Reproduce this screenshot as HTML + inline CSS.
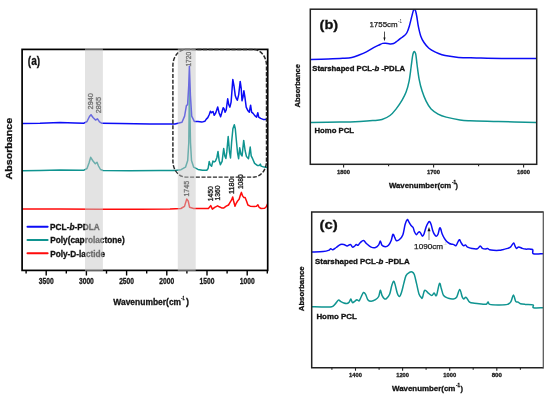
<!DOCTYPE html>
<html><head><meta charset="utf-8"><title>FTIR spectra</title>
<style>
html,body{margin:0;padding:0;background:#fff;}
body{width:550px;height:399px;overflow:hidden;}
svg{display:block;font-family:'Liberation Sans', Arial, sans-serif;}
text[font-weight=bold]{stroke:#111;stroke-width:0.3px;paint-order:stroke;}
</style></head>
<body>
<svg width="550" height="399" viewBox="0 0 550 399">
<rect width="550" height="399" fill="#fff"/>
<defs><clipPath id="ca"><rect x="22.1" y="49.4" width="245.6" height="221"/></clipPath><clipPath id="cb"><rect x="310.3" y="9.2" width="226.4" height="155.1"/></clipPath><clipPath id="cc"><rect x="311.7" y="212.1" width="231.7" height="155.7"/></clipPath></defs>
<text x="92.9" y="109.4" font-size="7" font-weight="normal" fill="#222" stroke="#222" stroke-width="0.35" transform="rotate(-90 92.9 109.4)" textLength="16.3" lengthAdjust="spacingAndGlyphs">2940</text>
<text x="101.0" y="113.3" font-size="7" font-weight="normal" fill="#222" stroke="#222" stroke-width="0.35" transform="rotate(-90 101.0 113.3)" textLength="16.3" lengthAdjust="spacingAndGlyphs">2865</text>
<text x="191.3" y="66.6" font-size="7" font-weight="normal" fill="#222" stroke="#222" stroke-width="0.35" transform="rotate(-90 191.3 66.6)" textLength="14.7" lengthAdjust="spacingAndGlyphs">1720</text>
<text x="188.9" y="196.6" font-size="7" font-weight="normal" fill="#222" stroke="#222" stroke-width="0.35" transform="rotate(-90 188.9 196.6)" textLength="15.7" lengthAdjust="spacingAndGlyphs">1745</text>
<text x="213.4" y="201.3" font-size="7" font-weight="normal" fill="#222" stroke="#222" stroke-width="0.35" transform="rotate(-90 213.4 201.3)" textLength="15.1" lengthAdjust="spacingAndGlyphs">1450</text>
<text x="219.8" y="200.5" font-size="7" font-weight="normal" fill="#222" stroke="#222" stroke-width="0.35" transform="rotate(-90 219.8 200.5)" textLength="15.1" lengthAdjust="spacingAndGlyphs">1360</text>
<text x="234.3" y="193.9" font-size="7" font-weight="normal" fill="#222" stroke="#222" stroke-width="0.35" transform="rotate(-90 234.3 193.9)" textLength="15.6" lengthAdjust="spacingAndGlyphs">1180</text>
<text x="243.5" y="189.1" font-size="7" font-weight="normal" fill="#222" stroke="#222" stroke-width="0.35" transform="rotate(-90 243.5 189.1)" textLength="14.7" lengthAdjust="spacingAndGlyphs">1080</text>
<g clip-path="url(#ca)">
<polyline points="22.0,209.0 60.0,209.0 100.0,209.2 140.0,209.3 170.0,209.1 180.9,208.5 184.5,206.4 186.7,199.1 188.2,200.9 189.6,207.3 193.6,208.5 205.0,208.5 208.4,208.5 210.7,205.6 212.4,209.1 214.7,207.3 217.6,205.8 219.3,206.8 221.6,207.9 223.9,207.9 226.2,206.2 228.5,205.0 230.2,202.2 231.6,199.9 232.7,197.0 233.6,201.0 235.0,206.2 236.2,203.3 237.6,201.0 239.1,199.3 240.5,194.7 241.4,192.4 242.6,195.9 243.9,197.6 245.1,197.4 246.5,201.0 247.9,205.0 250.2,206.2 254.3,206.5 256.5,206.2 257.9,204.7 259.1,207.3 261.1,208.5 264.6,208.3 266.3,206.8 267.6,203.9" fill="none" stroke="#ff0a0a" stroke-width="1.5" stroke-linejoin="round" stroke-linecap="round"/>
<polyline points="22.0,170.8 40.0,170.4 60.0,170.1 80.0,170.3 84.0,170.2 87.0,168.5 89.0,163.0 90.7,157.3 93.0,161.0 95.3,163.8 97.0,162.3 98.5,166.0 100.5,169.5 103.0,170.5 130.0,170.8 160.0,170.6 175.0,170.4 181.0,169.7 185.5,167.2 187.7,160.5 188.8,142.5 189.4,88.0 190.5,142.5 191.5,160.5 193.7,167.2 198.0,169.4 202.4,170.3 206.8,170.3 208.1,168.5 209.2,161.5 210.3,165.0 211.6,166.3 212.9,161.1 214.2,161.9 215.5,161.1 216.9,157.5 218.0,151.4 219.1,160.2 220.4,164.7 222.1,161.4 223.7,148.5 224.8,155.9 225.9,158.5 226.8,151.9 228.2,136.5 229.5,151.9 230.5,158.0 231.6,142.4 232.9,128.8 234.3,124.8 235.3,128.8 236.3,139.7 237.6,153.2 238.6,158.7 239.7,147.8 241.0,154.6 242.1,155.9 243.7,140.4 245.1,150.5 246.5,156.6 248.5,158.7 250.2,147.1 251.2,155.9 252.6,158.7 254.6,163.4 257.3,165.4 259.3,165.4 260.3,164.1 261.1,166.1 264.1,167.1 267.5,167.5" fill="none" stroke="#0f9490" stroke-width="1.5" stroke-linejoin="round" stroke-linecap="round"/>
<polyline points="22.0,123.5 40.0,123.2 60.0,122.4 75.0,123.0 84.0,123.2 87.0,121.5 89.5,116.5 91.0,114.7 93.0,117.5 95.5,120.0 97.5,118.8 99.5,121.8 102.0,123.3 120.0,123.6 150.0,124.0 165.0,124.0 175.0,124.0 182.0,122.3 184.6,116.1 186.4,105.6 187.6,104.7 188.7,86.3 189.4,66.3 190.4,95.0 191.7,116.1 194.3,121.4 198.0,121.6 201.8,122.1 204.8,121.3 206.3,119.1 207.8,117.6 209.3,114.5 210.4,111.2 211.5,112.7 213.0,111.5 214.2,115.3 215.7,113.0 217.7,107.0 219.1,113.0 220.6,116.8 222.1,111.5 223.2,107.8 224.3,109.3 225.1,112.3 226.2,110.0 227.7,98.8 228.8,104.8 229.9,107.1 231.1,102.1 232.8,79.5 234.0,85.8 235.3,95.8 236.5,98.9 237.4,100.2 238.7,94.6 240.2,81.4 241.2,88.3 242.0,100.8 243.0,97.1 243.9,90.8 244.9,97.1 246.2,107.1 248.0,110.8 249.3,112.1 250.6,105.2 251.6,112.1 253.1,113.4 255.0,115.9 256.6,117.1 257.8,112.7 258.7,117.1 260.6,118.4 263.1,119.4 265.6,119.4 267.5,118.4" fill="none" stroke="#0c0cf6" stroke-width="1.5" stroke-linejoin="round" stroke-linecap="round"/>
</g>
<line x1="27.5" y1="226.8" x2="47.6" y2="226.8" stroke="#0c0cf6" stroke-width="2" stroke-linecap="round"/>
<line x1="27.5" y1="240.1" x2="47.6" y2="240.1" stroke="#0f9490" stroke-width="2" stroke-linecap="round"/>
<line x1="27.5" y1="253.3" x2="47.6" y2="253.3" stroke="#ff0a0a" stroke-width="2" stroke-linecap="round"/>
<text x="50.1" y="229.7" font-size="8.4" font-weight="bold" fill="#111" textLength="49.7" lengthAdjust="spacingAndGlyphs">PCL-<tspan font-style="italic">b</tspan>-PDLA</text>
<text x="50.2" y="243.3" font-size="8.4" font-weight="bold" fill="#111" text-anchor="start" textLength="74.5" lengthAdjust="spacingAndGlyphs">Poly(caprolactone)</text>
<text x="50.2" y="256.7" font-size="8.4" font-weight="bold" fill="#111" text-anchor="start" textLength="55" lengthAdjust="spacingAndGlyphs">Poly-D-lactide</text>
<rect x="22.1" y="49.4" width="245.6" height="221" fill="none" stroke="#000" stroke-width="1.7"/>
<rect x="172.9" y="49.5" width="93.6" height="127.6" rx="13" ry="16" fill="none" stroke="#2a2a2a" stroke-width="1.45" stroke-dasharray="4.1 1.6"/>
<line x1="26.1" y1="270.4" x2="26.1" y2="273.6" stroke="#000" stroke-width="1.4"/>
<line x1="46.2" y1="270.4" x2="46.2" y2="275.5" stroke="#000" stroke-width="1.4"/>
<text x="46.2" y="284" font-size="8.8" font-weight="bold" fill="#1a1a1a" text-anchor="middle" textLength="14.9" lengthAdjust="spacingAndGlyphs">3500</text>
<line x1="66.3" y1="270.4" x2="66.3" y2="273.6" stroke="#000" stroke-width="1.4"/>
<line x1="86.4" y1="270.4" x2="86.4" y2="275.5" stroke="#000" stroke-width="1.4"/>
<text x="86.4" y="284" font-size="8.8" font-weight="bold" fill="#1a1a1a" text-anchor="middle" textLength="14.9" lengthAdjust="spacingAndGlyphs">3000</text>
<line x1="106.5" y1="270.4" x2="106.5" y2="273.6" stroke="#000" stroke-width="1.4"/>
<line x1="126.6" y1="270.4" x2="126.6" y2="275.5" stroke="#000" stroke-width="1.4"/>
<text x="126.6" y="284" font-size="8.8" font-weight="bold" fill="#1a1a1a" text-anchor="middle" textLength="14.9" lengthAdjust="spacingAndGlyphs">2500</text>
<line x1="146.7" y1="270.4" x2="146.7" y2="273.6" stroke="#000" stroke-width="1.4"/>
<line x1="166.8" y1="270.4" x2="166.8" y2="275.5" stroke="#000" stroke-width="1.4"/>
<text x="166.8" y="284" font-size="8.8" font-weight="bold" fill="#1a1a1a" text-anchor="middle" textLength="14.9" lengthAdjust="spacingAndGlyphs">2000</text>
<line x1="186.9" y1="270.4" x2="186.9" y2="273.6" stroke="#000" stroke-width="1.4"/>
<line x1="207.0" y1="270.4" x2="207.0" y2="275.5" stroke="#000" stroke-width="1.4"/>
<text x="207.0" y="284" font-size="8.8" font-weight="bold" fill="#1a1a1a" text-anchor="middle" textLength="14.9" lengthAdjust="spacingAndGlyphs">1500</text>
<line x1="227.1" y1="270.4" x2="227.1" y2="273.6" stroke="#000" stroke-width="1.4"/>
<line x1="247.2" y1="270.4" x2="247.2" y2="275.5" stroke="#000" stroke-width="1.4"/>
<text x="247.2" y="284" font-size="8.8" font-weight="bold" fill="#1a1a1a" text-anchor="middle" textLength="14.9" lengthAdjust="spacingAndGlyphs">1000</text>
<line x1="267.3" y1="270.4" x2="267.3" y2="273.6" stroke="#000" stroke-width="1.4"/>
<rect x="85" y="48.3" width="17.9" height="223" fill="rgba(200,200,200,0.5)"/>
<rect x="177.8" y="48.3" width="17.9" height="223" fill="rgba(200,200,200,0.5)"/>
<text x="113.3" y="304.8" font-size="9" font-weight="bold" fill="#111" textLength="67.8" lengthAdjust="spacingAndGlyphs">Wavenumber(cm</text>
<text x="181.2" y="300.3" font-size="5.2" font-weight="bold" fill="#111" textLength="3.3" lengthAdjust="spacingAndGlyphs">-1</text>
<text x="185.9" y="304.8" font-size="9" font-weight="bold" fill="#111">)</text>
<text x="12.1" y="179.4" font-size="9.5" font-weight="bold" fill="#111" textLength="61.5" lengthAdjust="spacingAndGlyphs" transform="rotate(-90 12.1 179.4)">Absorbance</text>
<text x="27.8" y="64.8" font-size="13" font-weight="bold" fill="#111" textLength="12.3" lengthAdjust="spacingAndGlyphs">(a)</text>
<g clip-path="url(#cb)">
<path d="M311.00,122.60 C315.83,122.52 331.83,122.30 340.00,122.10 C348.17,121.90 354.55,121.65 360.00,121.40 C365.45,121.15 369.03,120.92 372.70,120.60 C376.37,120.28 379.12,120.35 382.00,119.50 C384.88,118.65 387.67,117.23 390.00,115.50 C392.33,113.77 393.98,111.67 396.00,109.10 C398.02,106.53 400.42,102.93 402.10,100.10 C403.78,97.27 404.93,95.27 406.10,92.10 C407.27,88.93 408.27,85.28 409.10,81.10 C409.93,76.92 410.53,71.10 411.10,67.00 C411.67,62.90 412.10,58.92 412.50,56.50 C412.90,54.08 413.22,53.35 413.50,52.50 C413.78,51.65 413.95,51.43 414.20,51.40 C414.45,51.37 414.72,51.70 415.00,52.30 C415.28,52.90 415.55,52.88 415.90,55.00 C416.25,57.12 416.57,60.98 417.10,65.00 C417.63,69.02 418.27,74.75 419.10,79.10 C419.93,83.45 420.93,87.43 422.10,91.10 C423.27,94.77 424.60,98.10 426.10,101.10 C427.60,104.10 429.10,106.93 431.10,109.10 C433.10,111.27 435.58,112.77 438.10,114.10 C440.62,115.43 442.55,116.12 446.20,117.10 C449.85,118.08 456.03,119.38 460.00,120.00 C463.97,120.62 463.63,120.55 470.00,120.80 C476.37,121.05 487.20,121.23 498.20,121.50 C509.20,121.77 529.70,122.25 536.00,122.40" fill="none" stroke="#0f9490" stroke-width="1.5" stroke-linejoin="round" stroke-linecap="round"/>
<path d="M311.00,59.50 C313.87,59.42 322.92,59.20 328.20,59.00 C333.48,58.80 338.77,58.57 342.70,58.30 C346.63,58.03 349.07,57.95 351.80,57.40 C354.53,56.85 356.67,55.92 359.10,55.00 C361.53,54.08 363.98,53.12 366.40,51.90 C368.82,50.68 371.48,48.85 373.60,47.70 C375.72,46.55 377.58,45.72 379.10,45.00 C380.62,44.28 381.63,43.70 382.70,43.40 C383.77,43.10 384.28,43.12 385.50,43.20 C386.72,43.28 388.65,43.85 390.00,43.90 C391.35,43.95 392.38,43.98 393.60,43.50 C394.82,43.02 396.08,41.90 397.30,41.00 C398.52,40.10 399.70,39.02 400.90,38.10 C402.10,37.18 403.48,36.43 404.50,35.50 C405.52,34.57 406.20,34.05 407.00,32.50 C407.80,30.95 408.50,28.88 409.30,26.20 C410.10,23.52 411.12,19.02 411.80,16.40 C412.48,13.78 412.95,11.68 413.40,10.50 C413.85,9.32 414.13,9.22 414.50,9.30 C414.87,9.38 415.22,9.80 415.60,11.00 C415.98,12.20 416.35,13.97 416.80,16.50 C417.25,19.03 417.65,22.97 418.30,26.20 C418.95,29.43 419.75,33.18 420.70,35.90 C421.65,38.62 422.63,40.45 424.00,42.50 C425.37,44.55 427.00,46.58 428.90,48.20 C430.80,49.82 433.23,51.12 435.40,52.20 C437.57,53.28 439.47,54.02 441.90,54.70 C444.33,55.38 447.23,55.85 450.00,56.30 C452.77,56.75 454.10,57.13 458.50,57.40 C462.90,57.67 469.18,57.73 476.40,57.90 C483.62,58.07 491.87,58.32 501.80,58.40 C511.73,58.48 530.30,58.40 536.00,58.40" fill="none" stroke="#0c0cf6" stroke-width="1.5" stroke-linejoin="round" stroke-linecap="round"/>
</g>
<rect x="310.3" y="9.2" width="226.4" height="155.1" fill="none" stroke="#222" stroke-width="1.5"/>
<line x1="343.6" y1="164.3" x2="343.6" y2="167.6" stroke="#222" stroke-width="1.1"/>
<text x="343.6" y="173.8" font-size="6.2" font-weight="bold" fill="#222" text-anchor="middle" textLength="13" lengthAdjust="spacingAndGlyphs">1800</text>
<line x1="388.6" y1="164.3" x2="388.6" y2="166.3" stroke="#222" stroke-width="1.1"/>
<line x1="433.6" y1="164.3" x2="433.6" y2="167.6" stroke="#222" stroke-width="1.1"/>
<text x="433.6" y="173.8" font-size="6.2" font-weight="bold" fill="#222" text-anchor="middle" textLength="13" lengthAdjust="spacingAndGlyphs">1700</text>
<line x1="478.6" y1="164.3" x2="478.6" y2="166.3" stroke="#222" stroke-width="1.1"/>
<line x1="523.6" y1="164.3" x2="523.6" y2="167.6" stroke="#222" stroke-width="1.1"/>
<text x="523.6" y="173.8" font-size="6.2" font-weight="bold" fill="#222" text-anchor="middle" textLength="13" lengthAdjust="spacingAndGlyphs">1600</text>
<text x="319.6" y="28.7" font-size="13.4" font-weight="bold" fill="#111" text-anchor="start" textLength="18.6" lengthAdjust="spacingAndGlyphs">(b)</text>
<text x="369.4" y="27" font-size="7.5" fill="#222" stroke="#222" stroke-width="0.25" textLength="28.3" lengthAdjust="spacingAndGlyphs">1755cm</text>
<text x="398" y="23" font-size="4.5" fill="#444">-1</text>
<line x1="384.5" y1="31.6" x2="384.5" y2="38.5" stroke="#222" stroke-width="0.8"/>
<path d="M383.4,37.6 L384.5,41.2 L385.6,37.6 Z" fill="#111"/>
<text x="312.3" y="70.5" font-size="7.2" font-weight="bold" fill="#111" textLength="92.7" lengthAdjust="spacingAndGlyphs">Starshaped PCL-<tspan font-style="italic">b</tspan> -PDLA</text>
<text x="314.5" y="132.5" font-size="7.2" font-weight="bold" fill="#111" text-anchor="start" textLength="39.6" lengthAdjust="spacingAndGlyphs">Homo PCL</text>
<text x="300.1" y="107.5" font-size="8" font-weight="bold" fill="#111" textLength="43.3" lengthAdjust="spacingAndGlyphs" transform="rotate(-90 300.1 107.5)">Absorbance</text>
<text x="389" y="187.8" font-size="7.2" font-weight="bold" fill="#111" textLength="62.2" lengthAdjust="spacingAndGlyphs">Wavenumber(cm</text>
<text x="451.9" y="183.6" font-size="4.5" font-weight="bold" fill="#111">-1</text>
<text x="455.4" y="187.8" font-size="7.2" font-weight="bold" fill="#111">)</text>
<g clip-path="url(#cc)">
<path d="M312.00,306.70 C313.85,306.73 319.80,306.90 323.10,306.90 C326.40,306.90 329.80,307.17 331.80,306.70 C333.80,306.23 334.00,305.18 335.10,304.10 C336.20,303.02 337.50,300.67 338.40,300.20 C339.30,299.73 339.60,300.83 340.50,301.30 C341.40,301.77 342.70,302.65 343.80,303.00 C344.90,303.35 346.18,303.58 347.10,303.40 C348.02,303.22 348.68,302.62 349.30,301.90 C349.92,301.18 350.27,298.98 350.80,299.10 C351.33,299.22 351.85,302.23 352.50,302.60 C353.15,302.97 353.97,301.78 354.70,301.30 C355.43,300.82 356.17,299.78 356.90,299.70 C357.63,299.62 358.37,301.33 359.10,300.80 C359.83,300.27 360.57,297.88 361.30,296.50 C362.03,295.12 362.78,292.87 363.50,292.50 C364.22,292.13 364.88,293.10 365.60,294.30 C366.32,295.50 366.88,298.53 367.80,299.70 C368.72,300.87 369.82,301.30 371.10,301.30 C372.38,301.30 374.23,300.50 375.50,299.70 C376.77,298.90 377.90,298.07 378.70,296.50 C379.50,294.93 379.75,290.48 380.30,290.30 C380.85,290.12 381.35,294.02 382.00,295.40 C382.65,296.78 383.47,298.07 384.20,298.60 C384.93,299.13 385.50,299.32 386.40,298.60 C387.30,297.88 388.70,296.48 389.60,294.30 C390.50,292.12 391.13,287.68 391.80,285.50 C392.47,283.32 393.05,281.37 393.60,281.20 C394.15,281.03 394.48,282.50 395.10,284.50 C395.72,286.50 396.57,291.20 397.30,293.20 C398.03,295.20 398.78,296.68 399.50,296.50 C400.22,296.32 400.88,294.28 401.60,292.10 C402.32,289.92 403.07,286.13 403.80,283.40 C404.53,280.67 405.08,277.52 406.00,275.70 C406.92,273.88 408.28,273.12 409.30,272.50 C410.32,271.88 411.27,271.65 412.10,272.00 C412.93,272.35 413.57,272.70 414.30,274.60 C415.03,276.50 415.70,280.12 416.50,283.40 C417.30,286.68 418.30,291.95 419.10,294.30 C419.90,296.65 420.75,296.92 421.30,297.50 C421.85,298.08 421.83,299.00 422.40,297.80 C422.97,296.60 423.72,291.08 424.70,290.30 C425.68,289.52 427.12,292.23 428.30,293.10 C429.48,293.97 430.82,295.50 431.80,295.50 C432.78,295.50 433.42,293.10 434.20,293.10 C434.98,293.10 435.63,297.08 436.50,295.50 C437.37,293.92 438.60,284.78 439.40,283.60 C440.20,282.42 440.60,286.42 441.30,288.40 C442.00,290.38 442.42,293.85 443.60,295.50 C444.78,297.15 446.82,297.72 448.40,298.30 C449.98,298.88 451.73,299.17 453.10,299.00 C454.47,298.83 455.50,298.88 456.60,297.30 C457.70,295.72 458.78,289.62 459.70,289.50 C460.62,289.38 461.43,295.02 462.10,296.60 C462.77,298.18 463.03,298.88 463.70,299.00 C464.37,299.12 465.12,296.78 466.10,297.30 C467.08,297.82 468.22,301.10 469.60,302.10 C470.98,303.10 472.42,302.98 474.40,303.30 C476.38,303.62 479.53,303.85 481.50,304.00 C483.47,304.15 485.10,304.52 486.20,304.20 C487.30,303.88 487.52,302.07 488.10,302.10 C488.68,302.13 488.05,303.93 489.70,304.40 C491.35,304.87 495.03,304.90 498.00,304.90 C500.97,304.90 505.33,304.98 507.50,304.40 C509.67,303.82 510.02,302.97 511.00,301.40 C511.98,299.83 512.62,295.00 513.40,295.00 C514.18,295.00 514.92,300.22 515.70,301.40 C516.48,302.58 517.30,301.72 518.10,302.10 C518.90,302.48 519.32,303.32 520.50,303.70 C521.68,304.08 523.12,304.20 525.20,304.40 C527.28,304.60 531.62,304.35 533.00,304.90 C534.38,305.45 531.83,307.23 533.50,307.70 C535.17,308.17 541.42,307.70 543.00,307.70" fill="none" stroke="#0f9490" stroke-width="1.5" stroke-linejoin="round" stroke-linecap="round"/>
<path d="M312.00,252.10 C313.85,252.00 320.35,251.78 323.10,251.50 C325.85,251.22 327.23,250.85 328.50,250.40 C329.77,249.95 329.97,248.92 330.70,248.80 C331.43,248.68 331.98,249.92 332.90,249.70 C333.82,249.48 334.93,248.37 336.20,247.50 C337.47,246.63 339.23,245.00 340.50,244.50 C341.77,244.00 342.70,244.25 343.80,244.50 C344.90,244.75 346.00,246.00 347.10,246.00 C348.20,246.00 349.50,244.32 350.40,244.50 C351.30,244.68 351.78,246.85 352.50,247.10 C353.22,247.35 354.07,246.43 354.70,246.00 C355.33,245.57 355.75,244.62 356.30,244.50 C356.85,244.38 357.35,245.60 358.00,245.30 C358.65,245.00 359.28,243.50 360.20,242.70 C361.12,241.90 362.42,240.32 363.50,240.50 C364.58,240.68 365.43,242.70 366.70,243.80 C367.97,244.90 369.63,246.48 371.10,247.10 C372.57,247.72 374.23,247.87 375.50,247.50 C376.77,247.13 377.90,245.98 378.70,244.90 C379.50,243.82 379.75,240.93 380.30,241.00 C380.85,241.07 381.17,244.35 382.00,245.30 C382.83,246.25 384.22,246.70 385.30,246.70 C386.38,246.70 387.52,246.33 388.50,245.30 C389.48,244.27 390.47,242.32 391.20,240.50 C391.93,238.68 392.32,234.93 392.90,234.40 C393.48,233.87 394.15,236.28 394.70,237.30 C395.25,238.32 395.40,240.13 396.20,240.50 C397.00,240.87 398.38,240.47 399.50,239.50 C400.62,238.53 401.97,237.20 402.90,234.70 C403.83,232.20 404.37,227.03 405.10,224.50 C405.83,221.97 406.70,219.98 407.30,219.50 C407.90,219.02 408.10,220.63 408.70,221.60 C409.30,222.57 410.17,224.32 410.90,225.30 C411.63,226.28 412.50,226.42 413.10,227.50 C413.70,228.58 413.97,230.60 414.50,231.80 C415.03,233.00 415.68,234.58 416.30,234.70 C416.92,234.82 417.65,232.98 418.20,232.50 C418.75,232.02 419.12,231.55 419.60,231.80 C420.08,232.05 420.62,233.27 421.10,234.00 C421.58,234.73 422.02,236.20 422.50,236.20 C422.98,236.20 423.38,235.58 424.00,234.00 C424.62,232.42 425.47,228.63 426.20,226.70 C426.93,224.77 427.83,223.23 428.40,222.40 C428.97,221.57 429.15,221.35 429.60,221.70 C430.05,222.05 430.58,223.05 431.10,224.50 C431.62,225.95 432.18,228.82 432.70,230.40 C433.22,231.98 433.58,233.03 434.20,234.00 C434.82,234.97 435.75,236.20 436.40,236.20 C437.05,236.20 437.57,235.33 438.10,234.00 C438.63,232.67 439.17,229.05 439.60,228.20 C440.03,227.35 440.27,227.93 440.70,228.90 C441.13,229.87 441.58,232.42 442.20,234.00 C442.82,235.58 443.68,237.18 444.40,238.40 C445.12,239.62 445.65,240.45 446.50,241.30 C447.35,242.15 448.65,243.02 449.50,243.50 C450.35,243.98 450.88,244.02 451.60,244.20 C452.32,244.38 453.07,244.37 453.80,244.60 C454.53,244.83 455.27,246.15 456.00,245.60 C456.73,245.05 457.60,242.27 458.20,241.30 C458.80,240.33 459.12,239.57 459.60,239.80 C460.08,240.03 460.48,241.73 461.10,242.70 C461.72,243.67 462.57,245.23 463.30,245.60 C464.03,245.97 464.78,244.65 465.50,244.90 C466.22,245.15 466.52,246.50 467.60,247.10 C468.68,247.70 470.38,248.22 472.00,248.50 C473.62,248.78 475.93,249.23 477.30,248.80 C478.67,248.37 479.35,245.97 480.20,245.90 C481.05,245.83 481.55,247.87 482.40,248.40 C483.25,248.93 484.45,249.10 485.30,249.10 C486.15,249.10 486.78,248.28 487.50,248.40 C488.22,248.52 488.63,249.48 489.60,249.80 C490.57,250.12 491.72,250.22 493.30,250.30 C494.88,250.38 497.40,250.45 499.10,250.30 C500.80,250.15 502.05,249.72 503.50,249.40 C504.95,249.08 506.60,248.82 507.80,248.40 C509.00,247.98 509.73,247.80 510.70,246.90 C511.67,246.00 512.87,243.12 513.60,243.00 C514.33,242.88 514.62,245.30 515.10,246.20 C515.58,247.10 515.90,248.28 516.50,248.40 C517.10,248.52 517.72,246.90 518.70,246.90 C519.68,246.90 521.30,248.03 522.40,248.40 C523.50,248.77 523.62,248.92 525.30,249.10 C526.98,249.28 531.17,248.73 532.50,249.50 C533.83,250.27 531.55,253.00 533.30,253.70 C535.05,254.40 541.38,253.70 543.00,253.70" fill="none" stroke="#0c0cf6" stroke-width="1.5" stroke-linejoin="round" stroke-linecap="round"/>
</g>
<path d="M543.4,212.1 H311.7 V367.8 H543.4" fill="none" stroke="#222" stroke-width="1.5"/>
<line x1="543.3" y1="211.4" x2="543.3" y2="368.5" stroke="#555" stroke-width="1.25"/>
<line x1="331.9" y1="367.8" x2="331.9" y2="369.7" stroke="#222" stroke-width="1.1"/>
<line x1="355.5" y1="367.8" x2="355.5" y2="370.7" stroke="#222" stroke-width="1.1"/>
<text x="355.5" y="377.4" font-size="6.2" font-weight="bold" fill="#222" text-anchor="middle" textLength="12.8" lengthAdjust="spacingAndGlyphs">1400</text>
<line x1="379.1" y1="367.8" x2="379.1" y2="369.7" stroke="#222" stroke-width="1.1"/>
<line x1="402.6" y1="367.8" x2="402.6" y2="370.7" stroke="#222" stroke-width="1.1"/>
<text x="402.6" y="377.4" font-size="6.2" font-weight="bold" fill="#222" text-anchor="middle" textLength="12.8" lengthAdjust="spacingAndGlyphs">1200</text>
<line x1="426.1" y1="367.8" x2="426.1" y2="369.7" stroke="#222" stroke-width="1.1"/>
<line x1="449.7" y1="367.8" x2="449.7" y2="370.7" stroke="#222" stroke-width="1.1"/>
<text x="449.7" y="377.4" font-size="6.2" font-weight="bold" fill="#222" text-anchor="middle" textLength="12.8" lengthAdjust="spacingAndGlyphs">1000</text>
<line x1="473.2" y1="367.8" x2="473.2" y2="369.7" stroke="#222" stroke-width="1.1"/>
<line x1="496.8" y1="367.8" x2="496.8" y2="370.7" stroke="#222" stroke-width="1.1"/>
<text x="496.8" y="377.4" font-size="6.2" font-weight="bold" fill="#222" text-anchor="middle" textLength="10.3" lengthAdjust="spacingAndGlyphs">800</text>
<line x1="520.4" y1="367.8" x2="520.4" y2="369.7" stroke="#222" stroke-width="1.1"/>
<text x="319.6" y="228.6" font-size="13.4" font-weight="bold" fill="#111" text-anchor="start" textLength="18.2" lengthAdjust="spacingAndGlyphs">(c)</text>
<line x1="429" y1="229.5" x2="429" y2="240" stroke="#aaa" stroke-width="1.5"/>
<path d="M427.5,231.2 L429,226.9 L430.5,231.2 Z" fill="#111"/>
<text x="414.1" y="248.5" font-size="7.5" fill="#222" stroke="#222" stroke-width="0.25" textLength="29" lengthAdjust="spacingAndGlyphs">1090cm</text>
<text x="443.5" y="244.5" font-size="4" fill="#bbb">-1</text>
<text x="315" y="263.6" font-size="7.6" font-weight="bold" fill="#111" textLength="94.6" lengthAdjust="spacingAndGlyphs">Starshaped PCL-<tspan font-style="italic">b</tspan> -PDLA</text>
<text x="316.4" y="318.7" font-size="7.3" font-weight="bold" fill="#111" text-anchor="start" textLength="40.4" lengthAdjust="spacingAndGlyphs">Homo PCL</text>
<text x="304.1" y="311.2" font-size="8" font-weight="bold" fill="#111" textLength="44.7" lengthAdjust="spacingAndGlyphs" transform="rotate(-90 304.1 311.2)">Absorbance</text>
<text x="392" y="391.3" font-size="7.5" font-weight="bold" fill="#111" textLength="63.3" lengthAdjust="spacingAndGlyphs">Wavenumber(cm</text>
<text x="456" y="387.3" font-size="4.5" font-weight="bold" fill="#111">-1</text>
<text x="460.4" y="391.3" font-size="7.5" font-weight="bold" fill="#111">)</text>
</svg>
</body></html>
